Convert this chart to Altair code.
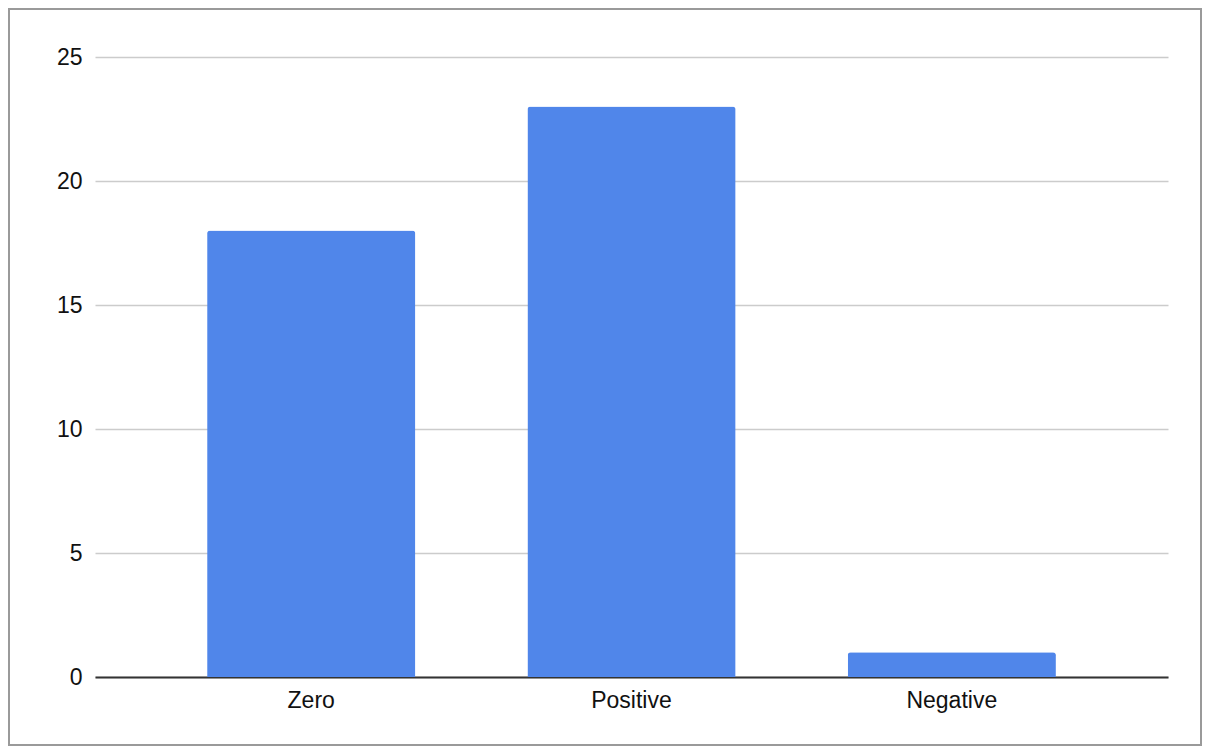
import altair as alt
import pandas as pd

categories = ["Zero", "Positive", "Negative"]
counts = [18, 23, 1]
y_ticks = [0, 5, 10, 15, 20, 25]

df = pd.DataFrame({"category": categories, "count": counts})

W, H = 1073, 620
PAD = {"left": 87, "top": 49, "right": 34, "bottom": 69}
FONT = "Liberation Sans"

bars = alt.Chart(df).mark_bar(
    color="#5086EA", cornerRadiusTopLeft=3, cornerRadiusTopRight=3
).encode(
    x=alt.X("category:N", sort=categories,
            scale=alt.Scale(paddingInner=0.35, paddingOuter=0.35),
            axis=alt.Axis(title=None, labelAngle=0, ticks=False, domain=True,
                          domainColor="#333333", domainWidth=2,
                          labelFont=FONT, labelFontSize=23, labelColor="#111111",
                          labelPadding=12, grid=False)),
    y=alt.Y("count:Q", scale=alt.Scale(domain=[0, 25], nice=False),
            axis=alt.Axis(title=None, values=y_ticks, ticks=False, domain=False,
                          grid=True, gridColor="#cccccc", gridWidth=1.5,
                          labelFont=FONT, labelFontSize=23, labelColor="#111111",
                          labelPadding=13)),
)

frame = alt.Chart(pd.DataFrame({"f": [0]})).mark_rect(
    fill=None, stroke="#9a9a9a", strokeWidth=2
).encode(
    x=alt.value(-86), x2=alt.value(W + 33),
    y=alt.value(-48), y2=alt.value(H + 68),
)

chart = alt.layer(bars, frame).properties(
    width=W, height=H, padding=PAD,
    autosize=alt.AutoSizeParams(type="none"),
    background="white",
).configure_view(stroke=None)

chart.save("out.html", embed_options={"renderer": "svg", "actions": False})
